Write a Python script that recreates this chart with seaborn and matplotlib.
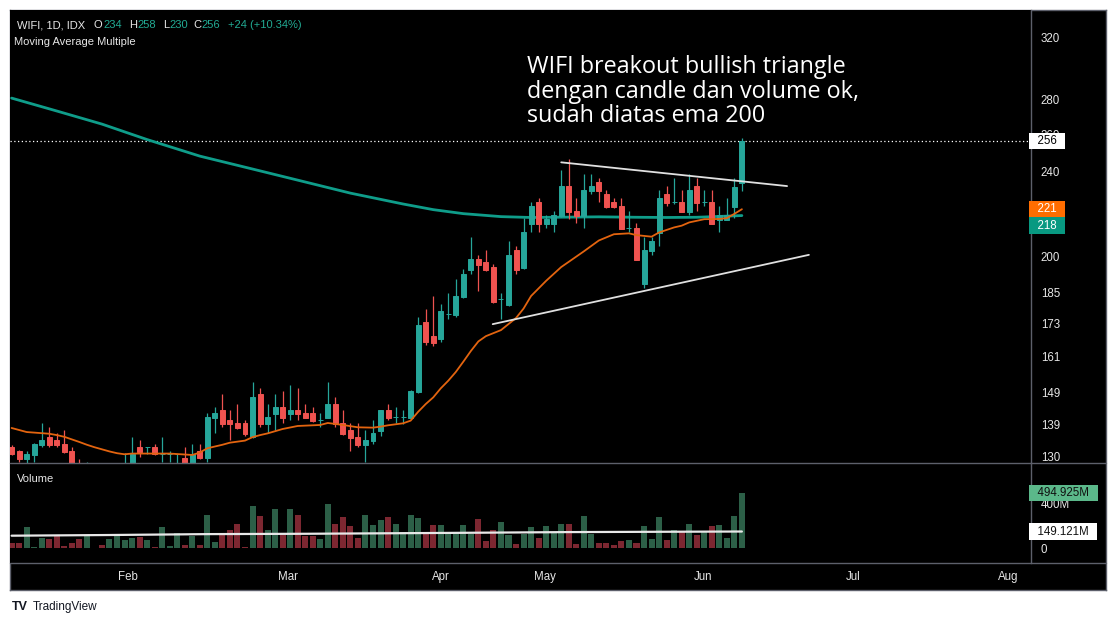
import numpy as np
import pandas as pd
import matplotlib
matplotlib.use("Agg")
import matplotlib.pyplot as plt
import matplotlib.transforms as mtransforms
from matplotlib.lines import Line2D
from matplotlib.ticker import NullLocator, FixedLocator, FixedFormatter
import seaborn as sns

# ---------------- data ----------------
opens = [132.6, 131.4, 129.3, 130.3, 133.1, 135.5, 134.6, 133.4, 131.4, 127.5,
         124.5, 125.5, 126.0, 125.0, 126.0, 126.5, 127.6, 132.6, 132.5, 132.6,
         130.5, 130.5, 130.5, 129.4, 128.1, 131.4, 129.4, 141.2, 143.5, 140.5,
         139.6, 139.6, 135.3, 148.6, 139.3, 142.3, 144.5, 142.3, 143.5, 142.6,
         142.6, 140.5, 141.1, 145.4, 139.6, 137.5, 135.5, 133.1, 134.4, 137.3,
         143.5, 141.4, 141.4, 141.1, 149.3, 173.5, 168.3, 167.3, 176.5, 176.1,
         183.1, 194.0, 198.7, 197.4, 195.3, 182.3, 179.9, 202.6, 194.8, 214.3,
         224.6, 214.3, 214.3, 217.9, 232.5, 220.3, 217.9, 230.0, 234.5, 228.5,
         224.6, 222.7, 212.4, 212.4, 188.3, 202.2, 210.1, 228.5, 224.6, 224.6,
         219.9, 232.5, 224.6, 224.6, 216.1, 216.1, 222.2, 234.0]
highs = [133.2, 131.6, 131.4, 133.6, 139.7, 138.5, 136.7, 137.5, 132.6, 129.2,
         128.4, 126.5, 126.8, 127.0, 127.8, 130.9, 135.5, 134.6, 132.7, 133.4,
         135.5, 131.4, 130.6, 132.6, 133.4, 133.4, 142.6, 144.5, 148.6, 143.5,
         145.4, 140.5, 152.5, 150.5, 145.4, 148.6, 149.6, 151.5, 150.5, 145.4,
         144.5, 142.6, 152.5, 147.7, 143.5, 139.6, 139.6, 137.5, 140.5, 143.7,
         145.4, 144.5, 143.5, 149.8, 175.3, 178.4, 183.5, 180.4, 184.7, 190.3,
         194.4, 208.4, 200.5, 202.6, 196.6, 184.7, 206.6, 204.4, 217.0, 224.6,
         226.6, 218.4, 220.3, 240.7, 246.4, 226.6, 238.6, 238.6, 236.5, 230.5,
         226.6, 226.6, 220.3, 214.7, 208.4, 208.4, 230.5, 232.5, 236.5, 230.5,
         238.6, 236.5, 230.5, 230.5, 222.7, 226.6, 236.5, 258.0]
lows = [130.2, 128.4, 128.2, 128.4, 132.7, 132.7, 132.7, 130.9, 126.5, 124.5,
        123.5, 125.0, 124.2, 124.5, 125.2, 125.8, 127.0, 129.6, 130.5, 130.3,
        128.4, 128.4, 128.1, 127.8, 127.8, 129.2, 128.4, 136.7, 138.5, 134.6,
        137.9, 135.6, 135.1, 138.5, 136.6, 137.5, 139.7, 140.5, 140.5, 141.0,
        140.0, 138.5, 141.0, 138.5, 136.1, 131.4, 132.6, 128.3, 133.4, 135.6,
        140.5, 139.6, 139.3, 140.9, 149.0, 165.1, 164.8, 166.2, 174.6, 175.3,
        182.9, 192.4, 185.5, 193.8, 180.9, 174.6, 179.7, 192.4, 194.4, 210.6,
        210.6, 212.4, 210.6, 217.7, 216.6, 214.7, 212.4, 228.5, 224.6, 222.0,
        222.0, 211.8, 210.6, 198.1, 186.7, 200.5, 204.4, 222.7, 223.6, 219.7,
        218.4, 220.3, 222.7, 214.1, 210.6, 215.9, 217.0, 230.0]
closes = [130.6, 129.3, 130.6, 133.4, 134.6, 133.1, 133.1, 131.1, 127.0, 125.5,
          126.0, 125.8, 125.0, 126.2, 127.0, 127.5, 130.6, 131.1, 132.5, 130.5,
          130.5, 130.5, 130.5, 128.1, 130.5, 129.4, 141.4, 142.6, 139.3, 139.3,
          138.1, 136.3, 147.7, 139.3, 141.4, 144.5, 141.1, 143.5, 142.3, 141.1,
          140.2, 140.5, 145.4, 139.3, 136.3, 135.2, 133.1, 134.6, 136.6, 143.5,
          141.1, 141.4, 141.4, 149.6, 172.4, 166.2, 165.9, 177.6, 176.5, 183.5,
          192.4, 198.7, 196.2, 194.0, 181.1, 182.3, 200.5, 194.0, 210.6, 222.7,
          214.3, 216.6, 218.4, 232.5, 219.9, 217.9, 230.5, 232.5, 230.0, 222.2,
          222.2, 212.0, 212.4, 198.3, 202.6, 206.6, 226.6, 224.1, 224.6, 219.9,
          230.5, 224.1, 224.6, 214.3, 218.4, 218.4, 232.0, 256.0]
volumes_m = [48, 48, 188, 10, 92, 83, 112, 22, 48, 83,
             112, 4, 31, 83, 110, 74, 92, 101, 74, 13,
             188, 22, 136, 31, 112, 31, 293, 57, 127, 162,
             215, 13, 372, 285, 162, 346, 118, 346, 293, 110,
             110, 83, 390, 215, 276, 197, 95, 293, 206, 250,
             276, 215, 145, 293, 267, 145, 206, 206, 145, 145,
             206, 127, 258, 66, 162, 232, 118, 39, 127, 188,
             92, 197, 145, 215, 215, 39, 285, 127, 48, 48,
             31, 66, 74, 48, 197, 83, 276, 74, 162, 145,
             215, 118, 145, 197, 206, 92, 285, 494.925]

ema20_bar = [1, 3, 6, 7, 8, 10, 11, 12, 14, 15, 16, 17, 19, 22, 25, 26, 27, 29, 30,
             32, 33, 34, 35, 37, 39, 42, 43, 45, 47, 49, 50, 51, 53, 54, 55, 56, 57,
             58, 59, 60, 61, 62, 63, 64, 66, 68, 69, 70, 72, 74, 75, 77, 79, 81, 83,
             84, 86, 87, 89, 90, 91, 93, 95, 96, 97, 98]
ema20_val = [138.1, 136.9, 136.4, 136.0, 135.5, 134.0, 133.2, 132.5, 131.3, 130.8,
             130.5, 130.7, 130.7, 130.7, 130.3, 131.0, 132.2, 133.2, 133.8, 134.4,
             135.4, 136.0, 136.5, 137.8, 138.7, 139.0, 139.6, 139.0, 138.3, 138.2,
             138.5, 138.9, 139.5, 140.3, 143.0, 145.4, 147.5, 150.4, 152.9, 155.8,
             159.3, 163.0, 166.4, 168.3, 170.5, 175.0, 178.6, 183.5, 189.6, 195.3,
             197.5, 202.0, 206.8, 209.6, 210.0, 209.2, 208.5, 210.4, 212.7, 213.5,
             215.0, 216.5, 216.6, 217.0, 219.0, 221.2]
ema200_bar = [1, 7, 13, 19, 26, 33, 39, 46, 53, 57, 61, 66, 70, 79, 84, 88, 92, 98]
ema200_val = [281.0, 273.3, 265.7, 257.0, 248.0, 241.2, 235.5, 229.0, 223.7, 221.0,
              219.1, 217.7, 217.3, 217.6, 217.4, 217.3, 217.4, 218.2]
volma_bar = [1, 14, 27, 40, 50, 62, 75, 88, 98]
volma_val = [112, 118, 126, 129, 133, 138, 144, 147, 149.121]

trend_upper_bar = [74.0, 104.0]
trend_upper_price = [244.7, 232.5]
trend_lower_bar = [64.9, 106.9]
trend_lower_price = [172.7, 200.5]

month_labels = ["Feb", "Mar", "Apr", "May", "Jun", "Jul", "Aug"]
month_pos = [16.5, 37.7, 58.0, 71.8, 92.8, 112.8, 133.4]
price_ticks = [130, 139, 149, 161, 173, 185, 200, 240, 260, 280, 320]

header_title = "WIFI, 1D, IDX"
header_keys = ["O", "H", "L", "C"]
header_vals = ["234", "258", "230", "256"]
header_change = "+24 (+10.34%)"
note_lines = ["WIFI breakout bullish triangle", "dengan candle dan volume ok,",
              "sudah diatas ema 200"]

# ---------------- style ----------------
sns.set_theme(style="dark")
plt.rcParams["font.family"] = ["Liberation Sans", "DejaVu Sans"]
plt.rcParams["patch.edgecolor"] = "none"

UP, DOWN = "#26a69a", "#ef5350"
VUP, VDOWN = "#2c5f47", "#7d2731"
TXT = "#e6e6e6"
TEALTXT = "#22ab94"
GRID = "#5d606b"

W, H = 1117, 625
def rect(l, t, r, b):
    return [l / W, 1 - b / H, (r - l) / W, (b - t) / H]

fig = plt.figure(figsize=(W / 100, H / 100), dpi=100, facecolor="white")

bg = fig.add_axes(rect(10, 10, 1106, 590))
bg.set_facecolor("black")
bg.set_xticks([]); bg.set_yticks([])
for s in bg.spines.values():
    s.set_color(GRID); s.set_linewidth(1.0)

ax = fig.add_axes(rect(10, 10, 1031, 463))
axv = fig.add_axes(rect(10, 463, 1031, 563))
for a in (ax, axv):
    a.set_facecolor("black")
    a.grid(False)
    for k, s in a.spines.items():
        s.set_visible(k == "right")
        s.set_color(GRID); s.set_linewidth(1.0)

for yy in (463, 563):
    fig.add_artist(Line2D([10 / W, 1106 / W], [1 - yy / H, 1 - yy / H], color=GRID, lw=1.0))

df = pd.DataFrame({"bar": np.arange(1, len(closes) + 1), "open": opens, "high": highs,
                   "low": lows, "close": closes, "volume": volumes_m})
df["dir"] = np.where(df["close"] >= df["open"], "up", "down")
cols = np.where(df["dir"] == "up", UP, DOWN)

# ---------------- price pane ----------------
ax.set_yscale("log")
ax.vlines(df["bar"], df["low"], df["high"], colors=cols, linewidth=0.9, zorder=3)
lo = np.minimum(df["open"], df["close"]); hi = np.maximum(df["open"], df["close"])
ax.bar(df["bar"], hi - lo, bottom=lo, width=0.66, color=cols, edgecolor=cols,
       linewidth=0.7, zorder=4)

sns.lineplot(x=ema200_bar, y=ema200_val, ax=ax, color="#0f9d8a", linewidth=2.0, zorder=2)
sns.lineplot(x=ema20_bar, y=ema20_val, ax=ax, color="#e3640f", linewidth=1.3, zorder=5)

ax.plot(trend_upper_bar, trend_upper_price, color="#e0e0e0", lw=1.3, zorder=6)
ax.plot(trend_lower_bar, trend_lower_price, color="#e0e0e0", lw=1.3, zorder=6)
ax.axhline(closes[-1], color="white", lw=0.9, ls=(0, (1, 2)), zorder=1)

ax.set_xlim(0.787, 136.4)
ax.set_ylim(128.07, 339.7)
ax.yaxis.tick_right()
ax.yaxis.set_major_locator(FixedLocator(price_ticks))
ax.yaxis.set_major_formatter(FixedFormatter([str(t) for t in price_ticks]))
ax.yaxis.set_minor_locator(NullLocator())
ax.tick_params(axis="y", length=0, pad=7, labelsize=8.3, labelcolor=TXT)
ax.set_xticks([])
ax.set_xlabel(""); ax.set_ylabel("")

trans = mtransforms.blended_transform_factory(ax.transAxes, ax.transData)
def side_label(axis, tr, y, text, fc, tc, dy=0):
    t = tr + mtransforms.ScaledTranslation(0, dy / 100, fig.dpi_scale_trans)
    axis.text(1.0, y, "  " + text + "  ", transform=t, ha="left", va="center", fontsize=8.3,
              color=tc, clip_on=False, zorder=10,
              bbox=dict(boxstyle="square,pad=0.18", fc=fc, ec="none"))

side_label(ax, trans, closes[-1], f"{closes[-1]:.0f}", "white", "black")
side_label(ax, trans, ema20_val[-1], f"{ema20_val[-1]:.0f}", "#ff6d00", "white")
side_label(ax, trans, ema200_val[-1], f"{ema200_val[-1]:.0f}", "#089981", "white", dy=-10)

# ---------------- volume pane ----------------
sns.barplot(data=df, x="bar", y="volume", hue="dir", palette={"up": VUP, "down": VDOWN},
            native_scale=True, dodge=False, width=0.8, saturation=1, legend=False,
            ax=axv, zorder=2, edgecolor="none", linewidth=0)
sns.lineplot(x=volma_bar, y=volma_val, ax=axv, color="#e8e8e8", linewidth=1.6, zorder=3)
axv.set_xlim(0.787, 136.4)
axv.set_ylim(-130.7, 758)
axv.yaxis.tick_right()
axv.set_yticks([0, 400])
axv.set_yticklabels(["0", "400M"])
axv.tick_params(axis="y", length=0, pad=7, labelsize=8.3, labelcolor=TXT)
axv.set_xticks(month_pos)
axv.set_xticklabels(month_labels)
axv.tick_params(axis="x", length=0, pad=6, labelsize=8.3, labelcolor=TXT)
axv.set_xlabel(""); axv.set_ylabel("")
transv = mtransforms.blended_transform_factory(axv.transAxes, axv.transData)
side_label(axv, transv, volumes_m[-1], f"{volumes_m[-1]:.3f}M", "#5bb88a", "#111111")
side_label(axv, transv, volma_val[-1], f"{volma_val[-1]:.3f}M", "white", "#111111")

# ---------------- texts ----------------
renderer = fig.canvas.get_renderer()
def put(x_px, y_px, s, color, size=8.0):
    t = fig.text(x_px / W, 1 - y_px / H, s, color=color, fontsize=size, ha="left", va="center")
    return t.get_window_extent(renderer).x1

put(17, 25, header_title, TXT)
for key, val, kx in zip(header_keys, header_vals, [94, 129, 163, 193]):
    x1 = put(kx, 25, key, TXT)
    put(x1 + 0.5, 25, val, TEALTXT)
put(228, 25, header_change, TEALTXT)
put(14, 42, "Moving Average Multiple", TXT)
put(17, 479, "Volume", TXT)

for i, line in enumerate(note_lines):
    fig.text(527 / W, 1 - (73 + 24.5 * i) / H, line, color="white", fontsize=16.8,
             ha="left", va="baseline", family=["Open Sans", "DejaVu Sans"])
fig.text(12 / W, 1 - 607 / H, "TV", color="#131722", fontsize=9, fontweight="bold",
         ha="left", va="center")
fig.text(33 / W, 1 - 607 / H, "TradingView", color="#131722", fontsize=8.5,
         ha="left", va="center")

fig.savefig("out.png", dpi=100, facecolor="white")
